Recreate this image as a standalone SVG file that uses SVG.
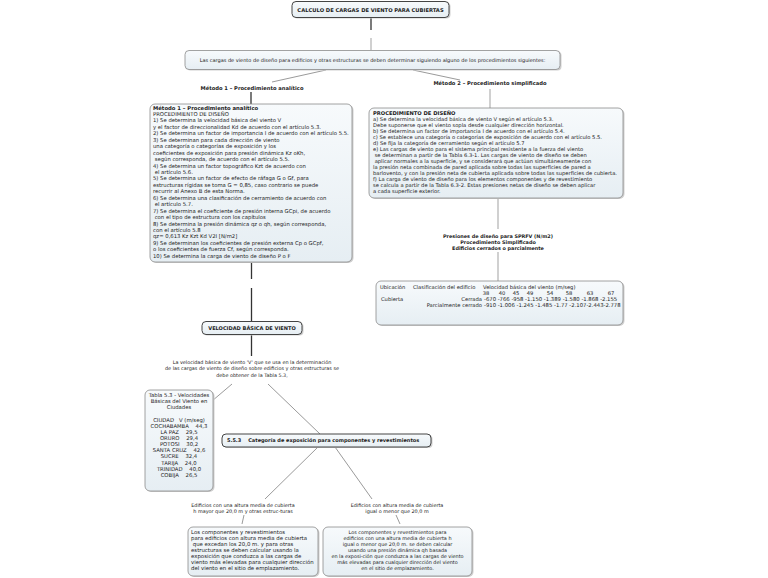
<svg xmlns="http://www.w3.org/2000/svg" width="768" height="578" viewBox="0 0 768 578">
<defs>
<linearGradient id="g" x1="0" y1="0" x2="0" y2="1"><stop offset="0" stop-color="#f7fafc"/><stop offset="1" stop-color="#e6eef3"/></linearGradient>
</defs>
<style>
text{font-family:"DejaVu Sans","Verdana",sans-serif;font-size:4.9px;fill:#222}
.b{font-weight:bold}
.m{text-anchor:middle}
.e{text-anchor:end}
.pre{white-space:pre}
.s52{font-size:5.2px}
.s53{font-size:5.3px}
.s54{font-size:5.4px}
.box{fill:url(#g);stroke:#8a8a8a;stroke-width:0.8}
.hbox{fill:url(#g);stroke:#444;stroke-width:1}
.sh{fill:#cfcfcf}
.ln{stroke:#333;stroke-width:1.3;fill:none}
.lf{stroke:#aaa;stroke-width:1.1;fill:none}
.dg{stroke:#555;stroke-width:0.6;fill:none}
</style>
<rect width="768" height="578" fill="#ffffff"/>
<g id="connectors">
<line class="ln" x1="371" y1="18" x2="371" y2="30"/>
<line class="lf" x1="371" y1="38" x2="371" y2="50"/>
<line class="dg" x1="326" y1="70" x2="272" y2="82"/>
<line class="dg" x1="413" y1="70" x2="460" y2="80"/>
<line class="ln" x1="251" y1="92" x2="251" y2="104"/>
<line class="lf" x1="490" y1="89" x2="490" y2="108"/>
<line class="ln" x1="251.5" y1="262" x2="251.5" y2="279"/>
<line class="ln" x1="251.5" y1="288" x2="251.5" y2="322"/>
<line class="lf" x1="498" y1="198" x2="498" y2="229"/>
<line class="lf" x1="498" y1="252" x2="498" y2="281"/>
<line class="ln" x1="251.5" y1="335" x2="251.5" y2="356"/>
<line class="dg" x1="232" y1="384" x2="212" y2="401"/>
<line class="dg" x1="268" y1="384" x2="320" y2="434"/>
<line class="dg" x1="318" y1="447" x2="265" y2="499"/>
<line class="dg" x1="335" y1="447" x2="372" y2="499"/>
<line class="dg" x1="244" y1="515" x2="242" y2="524"/>
<line class="dg" x1="396" y1="515" x2="400" y2="524"/>
</g>
<g id="title">
<rect class="sh" x="293.5" y="2.5" width="157" height="16" rx="4"/>
<rect class="hbox" x="292" y="1.5" width="157" height="16" rx="4"/>
<text class="b m s52" x="370.5" y="11.5">CALCULO DE CARGAS DE VIENTO PARA CUBIERTAS</text>
</g>
<g id="intro">
<rect class="sh" x="186.5" y="51.5" width="375" height="19" rx="4"/>
<rect class="box" x="185" y="50.5" width="375" height="19" rx="4"/>
<text class="m" x="372.5" y="61.5" style="font-size:5px">Las cargas de viento de diseño para edificios y otras estructuras se deben determinar siguiendo alguno de los procedimientos siguientes:</text>
</g>
<g id="metodo1">
<text class="b m s52" x="252" y="89.5">Método 1 – Procedimiento analítico</text>
</g>
<g id="metodo2">
<text class="b m s52" x="490" y="84.5">Método 2 – Procedimiento simplificado</text>
</g>
<g id="analitico">
<rect class="sh" x="151.5" y="105" width="202" height="158" rx="5"/>
<rect class="box" x="150" y="104" width="202" height="158" rx="5"/>
<text class="pre s53" x="153" y="109.5"><tspan class="b">Método 1 – Procedimiento analítico</tspan><tspan x="153" dy="6.45">PROCEDIMIENTO DE DISEÑO</tspan><tspan x="153" dy="6.45">1) Se determina la velocidad básica del viento V</tspan><tspan x="153" dy="6.45">y el factor de direccionalidad Kd de acuerdo con el artículo 5.3.</tspan><tspan x="153" dy="6.45">2) Se determina un factor de importancia I de acuerdo con el artículo 5.5.</tspan><tspan x="153" dy="6.45">3) Se determinan para cada dirección de viento</tspan><tspan x="153" dy="6.45">una categoría o categorías de exposición y los</tspan><tspan x="153" dy="6.45">coeficientes de exposición para presión dinámica Kz oKh,</tspan><tspan x="153" dy="6.45"> según corresponda, de acuerdo con el artículo 5.5.</tspan><tspan x="153" dy="6.45">4) Se determina un factor topográfico Kzt de acuerdo con</tspan><tspan x="153" dy="6.45"> el artículo 5.6.</tspan><tspan x="153" dy="6.45">5) Se determina un factor de efecto de ráfaga G o Gf, para</tspan><tspan x="153" dy="6.45">estructuras rígidas se toma G = 0,85, caso contrario se puede</tspan><tspan x="153" dy="6.45">recurrir al Anexo B de esta Norma.</tspan><tspan x="153" dy="6.45">6) Se determina una clasificación de cerramiento de acuerdo con</tspan><tspan x="153" dy="6.45"> el artículo 5.7.</tspan><tspan x="153" dy="6.45">7) Se determina el coeficiente de presión interna GCpi, de acuerdo</tspan><tspan x="153" dy="6.45"> con el tipo de estructura con los capítulos</tspan><tspan x="153" dy="6.45">8) Se determina la presión dinámica qz o qh, según corresponda,</tspan><tspan x="153" dy="6.45">con el artículo 5.8</tspan><tspan x="153" dy="6.45">qz= 0,613 Kz Kzt Kd V2I [N/m2]</tspan><tspan x="153" dy="6.45">9) Se determinan los coeficientes de presión externa Cp o GCpf,</tspan><tspan x="153" dy="6.45">o los coeficientes de fuerza Cf, según corresponda.</tspan><tspan x="153" dy="6.45">10) Se determina la carga de viento de diseño P o F</tspan></text>
</g>
<g id="simplificado">
<rect class="sh" x="370.5" y="109" width="254" height="90" rx="5"/>
<rect class="box" x="369" y="108" width="254" height="90" rx="5"/>
<text class="pre s52" x="373" y="115"><tspan class="b">PROCEDIMIENTO DE DISEÑO</tspan><tspan x="373" dy="6">a) Se determina la velocidad básica de viento V según el artículo 5.3.</tspan><tspan x="373" dy="6">Debe suponerse que el viento sopla desde cualquier dirección horizontal.</tspan><tspan x="373" dy="6">b) Se determina un factor de importancia I de acuerdo con el artículo 5.4.</tspan><tspan x="373" dy="6">c) Se establece una categoría o categorías de exposición de acuerdo con el artículo 5.5.</tspan><tspan x="373" dy="6">d) Se fija la categoría de cerramiento según el artículo 5.7</tspan><tspan x="373" dy="6">e) Las cargas de viento para el sistema principal resistente a la fuerza del viento</tspan><tspan x="373" dy="6"> se determinan a partir de la Tabla 6.3-1. Las cargas de viento de diseño se deben</tspan><tspan x="373" dy="6"> aplicar normales a la superficie, y se considerará que actúan simultáneamente con</tspan><tspan x="373" dy="6">la presión neta combinada de pared aplicada sobre todas las superficies de pared a</tspan><tspan x="373" dy="6">barlovento, y con la presión neta de cubierta aplicada sobre todas las superficies de cubierta.</tspan><tspan x="373" dy="6">f) La carga de viento de diseño para los elementos componentes y de revestimiento</tspan><tspan x="373" dy="6">se calcula a partir de la Tabla 6.3-2. Estas presiones netas de diseño se deben aplicar</tspan><tspan x="373" dy="6">a cada superficie exterior.</tspan></text>
</g>
<g id="presiones">
<text class="b m" x="498" y="237.5">Presiones de diseño para SPRFV (N/m2)<tspan x="498" dy="6.3">Procedimiento Simplificado</tspan><tspan x="498" dy="6.3">Edificios cerrados o parcialmente</tspan></text>
</g>
<g id="tabla">
<rect class="sh" x="377.5" y="282" width="247" height="44" rx="5"/>
<rect class="box" x="376" y="281" width="247" height="44" rx="5"/>
<text class="s52" x="380" y="288.5">Ubicación</text>
<text class="s52" x="413" y="288.5">Clasificación del edificio</text>
<text class="s52" x="483" y="288.5">Velocidad básica del viento (m/seg)</text>
<text class="m s52" x="486" y="294.8">38</text>
<text class="m s52" x="502" y="294.8">40</text>
<text class="m s52" x="516" y="294.8">45</text>
<text class="m s52" x="530" y="294.8">49</text>
<text class="m s52" x="550" y="294.8">54</text>
<text class="m s52" x="569" y="294.8">58</text>
<text class="m s52" x="590" y="294.8">63</text>
<text class="m s52" x="611" y="294.8">67</text>
<text class="s52" x="381" y="301">Cubierta</text>
<text class="e s52" x="482" y="301">Cerrada</text>
<text class="s53" x="484" y="301">-670 -766 -958 -1.150 -1.389 -1.580 -1.868 -2.155</text>
<text class="e s52" x="482" y="307.3">Parcialmente cerrado</text>
<text class="s53" x="484" y="307.3">-910 -1.006 -1.245 -1.485 -1.77 -2.107-2.443-2.778</text>
</g>
<g id="velocidad">
<rect class="sh" x="203.5" y="322.5" width="100" height="13" rx="4"/>
<rect class="hbox" x="202" y="321.5" width="100" height="13" rx="4"/>
<text class="b m" x="252" y="330" style="font-size:5.05px">VELOCIDAD BÁSICA DE VIENTO</text>
</g>
<g id="parrafo">
<text class="m pre" x="252" y="363.5">La velocidad básica de viento 'V' que se usa en la determinación<tspan x="252" dy="6.7">de las cargas de viento de diseño sobre edificios y otras estructuras se</tspan><tspan x="252" dy="6.7">debe obtener de la Tabla 5.3,</tspan></text>
</g>
<g id="tabla53">
<rect class="sh" x="146.5" y="391" width="68" height="101" rx="5"/>
<rect class="box" x="145" y="390" width="68" height="101" rx="5"/>
<text class="m pre s53" x="179" y="397">Tabla 5.3 - Velocidades<tspan x="179" dy="6.1">Básicas del Viento en</tspan><tspan x="179" dy="6.1">Ciudades</tspan><tspan x="179" dy="12.6">CIUDAD   V (m/seg)</tspan><tspan x="179" dy="6.1">COCHABAMBA    44,3</tspan><tspan x="179" dy="6.1">LA PAZ    29,5</tspan><tspan x="179" dy="6.1">ORURO    29,4</tspan><tspan x="179" dy="6.1">POTOSI    30,2</tspan><tspan x="179" dy="6.1">SANTA CRUZ    42,6</tspan><tspan x="179" dy="6.1">SUCRE    32,4</tspan><tspan x="179" dy="6.1">TARIJA    24,0</tspan><tspan x="179" dy="6.1">TRINIDAD    40,0</tspan><tspan x="179" dy="6.1">COBIJA    26,5</tspan></text>
</g>
<g id="categoria">
<rect class="sh" x="223.5" y="435" width="209" height="13" rx="4"/>
<rect class="hbox" x="222" y="434" width="209" height="13" rx="4"/>
<text class="b pre" x="227" y="442.3" style="font-size:5px">5.5.3    Categoría de exposición para componentes y revestimientos</text>
</g>
<g id="mayor">
<text class="m" x="243" y="506.5">Edificios con una altura media de cubierta<tspan x="243" dy="6.3">h mayor que 20,0 m y otras estruc-turas</tspan></text>
</g>
<g id="menor">
<text class="m" x="397" y="506.5">Edificios con altura media de cubierta<tspan x="397" dy="6.3">igual o menor que 20,0 m</tspan></text>
</g>
<g id="comp-mayor">
<rect class="sh" x="189.5" y="528" width="130" height="49" rx="5"/>
<rect class="box" x="188" y="527" width="130" height="49" rx="5"/>
<text class="pre s54" x="191" y="534"><tspan>Los componentes y revestimientos</tspan><tspan x="191" dy="6">para edificios con altura media de cubierta</tspan><tspan x="191" dy="6"> que excedan los 20,0 m. y para otras</tspan><tspan x="191" dy="6">estructuras se deben calcular usando la</tspan><tspan x="191" dy="6">exposición que conduzca a las cargas de</tspan><tspan x="191" dy="6">viento más elevadas para cualquier dirección</tspan><tspan x="191" dy="6">del viento en el sitio de emplazamiento.</tspan></text>
</g>
<g id="comp-menor">
<rect class="sh" x="324.5" y="528" width="149" height="49" rx="5"/>
<rect class="box" x="323" y="527" width="149" height="49" rx="5"/>
<text class="m" x="397.5" y="534"><tspan>Los componentes y revestimientos para</tspan><tspan x="397.5" dy="6">edificios con una altura media de cubierta h</tspan><tspan x="397.5" dy="6">igual o menor que 20,0 m. se deben calcular</tspan><tspan x="397.5" dy="6">usando una presión dinámica qh basada</tspan><tspan x="397.5" dy="6">en la exposi-ción que conduzca a las cargas de viento</tspan><tspan x="397.5" dy="6">más elevadas para cualquier dirección del viento</tspan><tspan x="397.5" dy="6">en el sitio de emplazamiento.</tspan></text>
</g>
</svg>
